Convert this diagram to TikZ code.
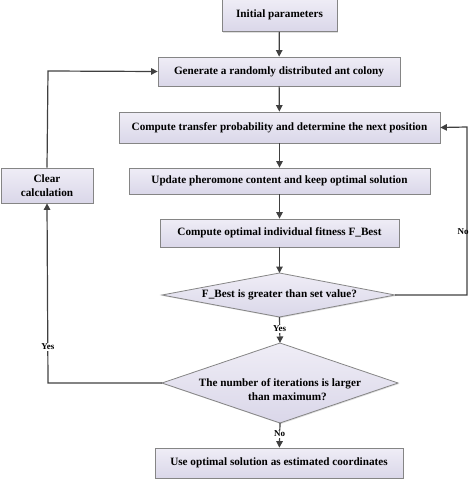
\documentclass[tikz,border=0pt]{standalone}
\usepackage{fontspec}
\setmainfont{Liberation Serif}
\usetikzlibrary{shapes.geometric,arrows.meta,shadows}
\definecolor{boxtop}{HTML}{EFEDF6}
\definecolor{boxbot}{HTML}{DAD7E9}
\definecolor{boxline}{HTML}{858585}
\definecolor{conn}{HTML}{404040}
\tikzset{
  boxfont/.style={font=\bfseries\fontsize{11.2}{14}\selectfont, text=black},
  procbox/.style={draw=boxline, line width=0.8pt, top color=boxtop, bottom color=boxbot,
    boxfont, inner sep=0pt, align=center,
    drop shadow={shadow xshift=1pt, shadow yshift=-1pt, opacity=0.25}},
  conn/.style={draw=conn, line width=1.2pt, -{Triangle[length=6.5pt,width=6.5pt]}},
  lbl/.style={font=\bfseries\fontsize{9}{10}\selectfont, text=black, inner sep=1pt, fill=white},
}
\begin{document}
\begin{tikzpicture}[x=1pt,y=-1pt]
\useasboundingbox (0,0) rectangle (474,482);
\node[procbox, minimum width=115pt, minimum height=33pt] (init) at (279.5,15) {Initial parameters};
\node[procbox, minimum width=242pt, minimum height=29pt] (gen) at (279,71.5) {Generate a randomly distributed ant colony};
\node[procbox, minimum width=321pt, minimum height=31pt] (trans) at (279.5,127.5) {Compute transfer probability and determine the next position};
\node[procbox, minimum width=301pt, minimum height=26pt] (upd) at (279.5,181) {Update pheromone content and keep optimal solution};
\node[procbox, minimum width=239pt, minimum height=28pt] (fit) at (279.5,233) {Compute optimal individual fitness F\_Best};
\node[procbox, minimum width=92pt, minimum height=35pt] (clear) at (47,185.5) {Clear\\calculation};
\node[procbox, minimum width=248pt, minimum height=30pt] (use) at (279,463) {Use optimal solution as estimated coordinates};
\path[procbox] (162,295) -- (279.5,273) -- (395,295) -- (279.5,317) -- cycle;
\node[boxfont] (d1) at (279.5,295) {F\_Best is greater than set value?};
\coordinate (d1t) at (279.5,273);
\coordinate (d1b) at (279.5,317);
\coordinate (d1r) at (395,295);
\path[procbox] (162,383) -- (280,343) -- (398,383) -- (280,423) -- cycle;
\node[boxfont, align=center, inner sep=0pt] (d2) at (280,390) {The number of iterations is larger\\\hspace*{15pt}than maximum?};
\coordinate (d2t) at (280,343);
\coordinate (d2b) at (280,423);
\coordinate (d2l) at (162,383);
\coordinate (lefttop) at (48,71);
\coordinate (rightbot) at (467,295);
\coordinate (righttop) at (467,127);
\coordinate (leftbot) at (48,383);

\draw[conn] (init) -- (gen);
\draw[conn] (gen) -- (trans);
\draw[conn] (trans) -- (upd);
\draw[conn] (upd) -- (fit);
\draw[conn] (fit) -- (d1t);
\draw[conn] (d1b) -- node[lbl, pos=0.45]{Yes} (d2t);
\draw[conn] (d2b) -- node[lbl, pos=0.45]{No} (use);
\draw[conn] (d1r) -- (rightbot) -- (righttop) -- (trans.east);
\draw[conn] (d2l) -- (leftbot) -- node[lbl, pos=0.2]{Yes} (clear.south);
\draw[conn] (clear.north) -- (lefttop) -- (gen.west);
\node[font=\bfseries\fontsize{9}{10}\selectfont, inner sep=0pt] (nolbl) at (463,232) {No};
\end{tikzpicture}
\end{document}
